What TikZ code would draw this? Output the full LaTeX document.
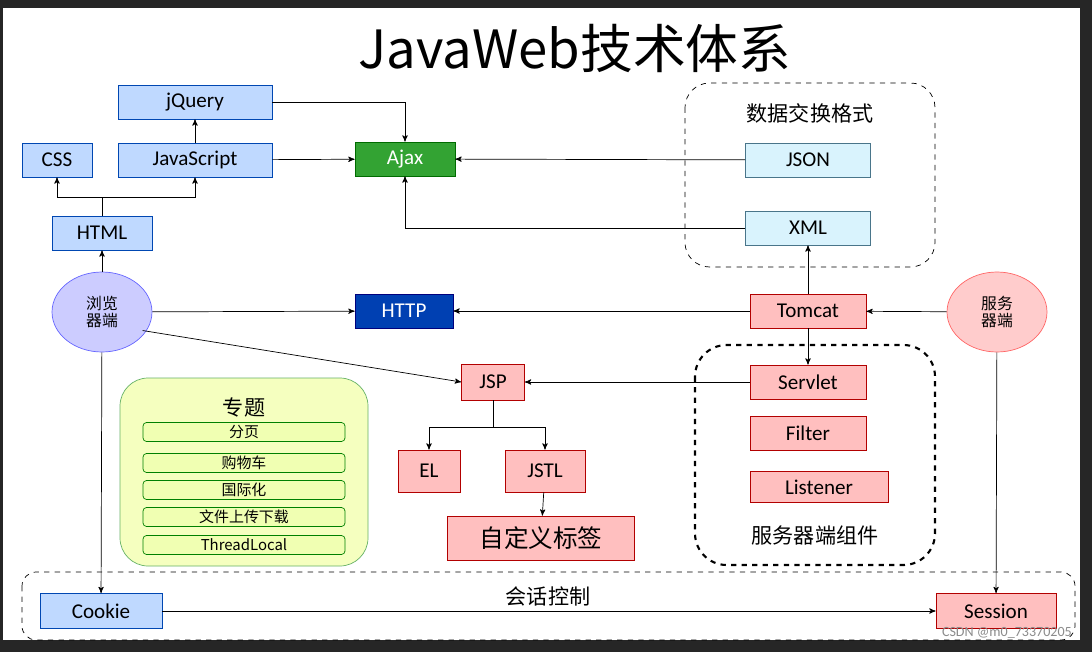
\documentclass[tikz,border=0pt]{standalone}
\usepackage{fontspec}
\setmainfont{Carlito}
\newfontfamily\cjk{Noto Sans CJK SC}
\usetikzlibrary{arrows,positioning,shapes}

\tikzset{
	box/.style={draw=#1!70!black, fill=#1!25, minimum height=0.68cm, inner sep=1pt, font=\fontsize{12}{14}\selectfont},
	bluebox/.style={box=blue!60!cyan},
	redbox/.style={box=red},
	topic/.style={draw=green!50!black, fill=green!20!yellow!30, rounded corners=2pt, minimum width=4.04cm, minimum height=0.38cm, inner sep=0pt, font=\cjk\fontsize{8.5}{9}\selectfont},
	arr/.style={->, >=stealth', thin},
}

\begin{document}
\begin{tikzpicture}[x=0.02cm, y=-0.02cm]
	\fill[black!85] (0,0) rectangle (1092,652);
	\fill[white] (3,8) rectangle (1080,640);
	\node (title) at (575,48) {\cjk\fontsize{30}{34}\selectfont JavaWeb技术体系};
	% frames
	\draw[dashed, rounded corners=14pt] (685,83) rectangle (935,267);
	\node (fmt) at (810,113) {\cjk\fontsize{12}{14}\selectfont 数据交换格式};
	\draw[very thick, dashed, rounded corners=18pt] (695,345) rectangle (935,565);
	\node (comp) at (815,535) {\cjk\fontsize{12}{14}\selectfont 服务器端组件};
	\draw[dashed, rounded corners=8pt] (22,572) rectangle (1075,640);
	\node (sess) at (548,596) {\cjk\fontsize{12}{14}\selectfont 会话控制};
	\draw[draw=green!50!black!60, fill=green!15!yellow!25, rounded corners=16pt] (120,378) rectangle (368,566);
	\node (topics) at (244,407) {\cjk\fontsize{12}{14}\selectfont 专题};
	% client side
	\node (jquery) [bluebox, minimum width=3.08cm] at (195,102) {jQuery};
	\node (css) [bluebox, minimum width=1.4cm] at (57,160) {CSS};
	\node (js) [bluebox, minimum width=3.08cm] at (195,160) {JavaScript};
	\node (html) [bluebox, minimum width=2cm] at (102,233) {HTML};
	\node (browser) [ellipse, draw=blue!60, fill=blue!20, minimum width=2cm, minimum height=1.6cm, inner sep=0pt, align=center, font=\cjk\fontsize{9}{10}\selectfont] at (102,312) {浏览\\器端};
	\node (ajax) [box=green!60!black, fill=green!55!black!80, text=white, minimum width=2cm] at (405,159) {Ajax};
	\node (http) [box=blue!70!black, fill=blue!60!black!75!cyan, text=white, minimum width=1.96cm] at (404,311) {HTTP};
	% server side
	\node (json) [box=cyan!70!black, fill=cyan!15, minimum width=2.5cm] at (808,160) {JSON};
	\node (xml) [box=cyan!70!black, fill=cyan!15, minimum width=2.5cm] at (808,228) {XML};
	\node (tomcat) [redbox, minimum width=2.32cm] at (808,311) {Tomcat};
	\node (server) [ellipse, draw=red!60, fill=red!20, minimum width=2cm, minimum height=1.6cm, inner sep=0pt, align=center, font=\cjk\fontsize{9}{10}\selectfont] at (997,312) {服务\\器端};
	\node (servlet) [redbox, minimum width=2.32cm] at (808,382) {Servlet};
	\node (filter) [redbox, minimum width=2.32cm] at (808,433) {Filter};
	\node (listener) [redbox, minimum width=2.76cm, minimum height=0.62cm] at (819,487) {Listener};
	\node (jsp) [redbox, minimum width=1.26cm, minimum height=0.72cm] at (493,382) {JSP};
	\node (el) [redbox, minimum width=1.24cm, minimum height=0.84cm] at (429,471) {EL};
	\node (jstl) [redbox, minimum width=1.6cm, minimum height=0.84cm] at (545,471) {JSTL};
	\node (tag) [redbox, minimum width=3.74cm, minimum height=0.88cm, font=\cjk\fontsize{14}{16}\selectfont] at (541,538) {自定义标签};
	\node (cookie) [bluebox, minimum width=2.44cm, minimum height=0.7cm] at (101,611) {Cookie};
	\node (session) [redbox, minimum width=2.4cm, minimum height=0.7cm] at (996,611) {Session};
	% topics
	\node (t1) [topic] at (244,432) {分页};
	\node (t2) [topic] at (244,463) {购物车};
	\node (t3) [topic] at (244,490) {国际化};
	\node (t4) [topic] at (244,517) {文件上传下载};
	\node (t5) [topic] at (244,545) {ThreadLocal};
	% connectors
	\draw[arr] (jquery.east) -| (ajax.north);
	\draw[arr] (js) -- (ajax);
	\draw[arr] (json) -- (ajax);
	\draw[arr] (xml.west) -| (ajax.south);
	\draw[arr] (js) -- (jquery);
	\draw[arr] (html.north) -- ++(0,-18) -| (css.south);
	\draw[arr] (html.north) -- ++(0,-18) -| (js.south);
	\draw[arr] (browser) -- (html);
	\draw[arr] (browser) -- (http);
	\draw[arr] (server) -- (tomcat);
	\draw[arr] (tomcat) -- (http);
	\draw[arr] (tomcat) -- (xml);
	\draw[arr] (tomcat) -- (servlet);
	\draw[arr] (servlet) -- (jsp);
	\draw[arr] (browser.south east) ++(5,-10) -- (jsp.west);
	\draw[arr] (jsp.south) -- ++(0,27) -| (el.north);
	\draw[arr] (jsp.south) -- ++(0,27) -| (jstl.north);
	\draw[arr] (jstl) -- (tag);
	\draw[arr] (browser) -- (cookie);
	\draw[arr] (server) -- (session);
	\draw[arr] (cookie) -- (session);
	\node (mark) [anchor=east, text=black!45, font=\fontsize{8}{9}\selectfont] at (1078,633) {CSDN @m0\_73370205};
\end{tikzpicture}
\end{document}
